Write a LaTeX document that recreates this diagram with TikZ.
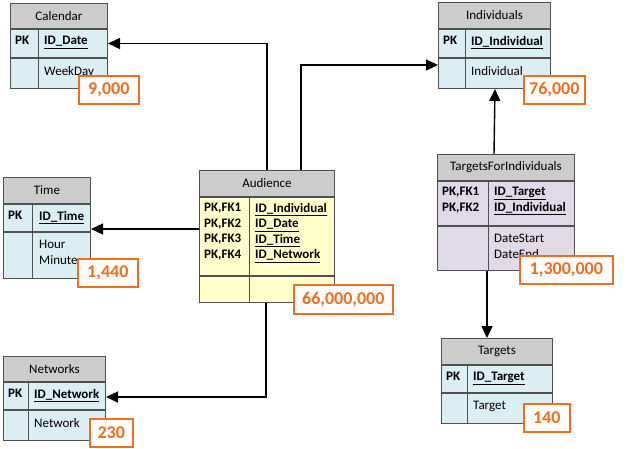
\documentclass[tikz,border=0pt]{standalone}
\usepackage{fontspec}
\setmainfont{Carlito}
\usetikzlibrary{positioning,arrows.meta,calc}

\definecolor{hdrgray}{RGB}{204,204,204}
\definecolor{rowblue}{RGB}{218,238,243}
\definecolor{rowyellow}{RGB}{255,255,204}
\definecolor{rowlilac}{RGB}{224,218,232}
\definecolor{cntorange}{RGB}{240,110,30}
\definecolor{edgegray}{RGB}{80,80,80}

\tikzset{
  box/.style={draw=edgegray, line width=1pt, anchor=north west, inner sep=0pt},
  hdr/.style={box, fill=hdrgray},
  txt/.style={anchor=north west, inner sep=0pt, align=left, font=\fontsize{13}{15.5}\selectfont},
  key/.style={txt, font=\fontsize{13}{15.5}\selectfont\bfseries},
  title/.style={inner sep=0pt, font=\fontsize{13}{15.5}\selectfont},
  count/.style={draw=cntorange, line width=1.6pt, fill=white, text=cntorange, inner sep=0pt,
    anchor=north west, font=\fontsize{18}{20}\selectfont\bfseries},
  link/.style={line width=1.4pt, -{Triangle[length=12pt,width=11pt]}}
}

% table: name, x, y, width, key column, header h, row1 h, row2 h, fill
\newcommand{\ent}[9]{%
  \node[hdr, minimum width=#4pt, minimum height=#6pt] (#1-h) at (#2,#3) {};
  \node[box, fill=#9, minimum width=#4pt, minimum height=#7pt] (#1-1) at (#1-h.south west) {};
  \node[box, fill=#9, minimum width=#4pt, minimum height=#8pt] (#1-2) at (#1-1.south west) {};
  \draw[draw=edgegray, line width=1pt] ($(#1-1.north west)+(#5,0)$) -- ($(#1-2.south west)+(#5,0)$);
}

\begin{document}
\begin{tikzpicture}[x=1pt,y=-1pt]
  \useasboundingbox (0,0) rectangle (640,449);

  % tables
  \ent{cal}{10}{3}{97}{28}{25}{28}{30}{rowblue}
  \ent{time}{3}{177}{87}{29}{26}{27}{46}{rowblue}
  \ent{net}{3}{356}{102}{25}{25}{27}{30}{rowblue}
  \ent{aud}{199}{170}{135}{50}{26}{78}{26}{rowyellow}
  \ent{ind}{438}{2}{112}{27}{26}{28}{30}{rowblue}
  \ent{tfi}{437}{154}{137}{51}{26}{44}{44}{rowlilac}
  \ent{tgt}{441}{338}{111}{26}{26}{27}{30}{rowblue}

  % titles
  \node[title] at (cal-h) {Calendar};
  \node[title] at (time-h) {Time};
  \node[title] at (net-h) {Networks};
  \node[title] at (aud-h) {Audience};
  \node[title] at (ind-h) {Individuals};
  \node[title] at (tfi-h) {TargetsForIndividuals};
  \node[title] at (tgt-h) {Targets};

  % keys and fields
  \node[key] (cal-k) at ($(cal-1.north west)+(5,7)$) {PK};
  \node[key] (cal-f) at ($(cal-1.north west)+(34,7)$) {\underline{ID\_Date}};
  \node[txt] (cal-g) at ($(cal-2.north west)+(34,8)$) {WeekDay};

  \node[key] (time-k) at ($(time-1.north west)+(5,7)$) {PK};
  \node[key] (time-f) at ($(time-1.north west)+(36,7)$) {\underline{ID\_Time}};
  \node[txt] (time-g) at ($(time-2.north west)+(36,8)$) {Hour\\Minute};

  \node[key] (net-k) at ($(net-1.north west)+(5,7)$) {PK};
  \node[key] (net-f) at ($(net-1.north west)+(31,7)$) {\underline{ID\_Network}};
  \node[txt] (net-g) at ($(net-2.north west)+(31,8)$) {Network};

  \node[key] (aud-k) at ($(aud-1.north west)+(5,6)$) {PK,FK1\\PK,FK2\\PK,FK3\\PK,FK4};
  \node[key] (aud-f) at ($(aud-1.north west)+(56,6)$) {\underline{ID\_Individual}\\\underline{ID\_Date}\\\underline{ID\_Time}\\\underline{ID\_Network}};

  \node[key] (ind-k) at ($(ind-1.north west)+(5,7)$) {PK};
  \node[key] (ind-f) at ($(ind-1.north west)+(33,7)$) {\underline{ID\_Individual}};
  \node[txt] (ind-g) at ($(ind-2.north west)+(33,8)$) {Individual};

  \node[key] (tfi-k) at ($(tfi-1.north west)+(5,6)$) {PK,FK1\\PK,FK2};
  \node[key] (tfi-f) at ($(tfi-1.north west)+(57,6)$) {\underline{ID\_Target}\\\underline{ID\_Individual}};
  \node[txt] (tfi-g) at ($(tfi-2.north west)+(57,8)$) {DateStart\\DateEnd};

  \node[key] (tgt-k) at ($(tgt-1.north west)+(5,7)$) {PK};
  \node[key] (tgt-f) at ($(tgt-1.north west)+(32,7)$) {\underline{ID\_Target}};
  \node[txt] (tgt-g) at ($(tgt-2.north west)+(32,8)$) {Target};

  % connectors
  \coordinate (aud-t1) at ($(aud-h.north west)+(68,0)$);
  \coordinate (aud-t2) at ($(aud-h.north west)+(102,0)$);
  \coordinate (aud-b) at ($(aud-2.south west)+(67,0)$);
  \coordinate (ind-in) at ($(ind-2.north west)+(0,7)$);
  \coordinate (time-in) at ($(time-1.south east)+(0,-3)$);
  \coordinate (net-in) at ($(net-1.south east)+(0,-13)$);
  \draw[link] (aud-t1) |- (cal-1.east);
  \draw[link] (aud-t2) |- (ind-in);
  \draw[link] (time-in -| aud-1.west) -- (time-in);
  \draw[link] (aud-b) |- (net-in);
  \draw[link] ($(tfi-h.north west)+(57,0)$) -- ($(ind-2.south west)+(57,0)$);
  \draw[link] ($(tfi-2.south west)+(50,0)$) -- ($(tgt-h.north west)+(46,0)$);

  % row counts
  \node[count, minimum width=60pt, minimum height=28pt] (cal-n) at (78,75) {9,000};
  \node[count, minimum width=60pt, minimum height=28pt] (time-n) at (77,258) {1,440};
  \node[count, minimum width=43pt, minimum height=28pt] (net-n) at (89,418) {230};
  \node[count, minimum width=99pt, minimum height=29pt] (aud-n) at (293,284) {66,000,000};
  \node[count, minimum width=61pt, minimum height=28pt] (ind-n) at (523,75) {76,000};
  \node[count, minimum width=93pt, minimum height=28pt] (tfi-n) at (519,255) {1,300,000};
  \node[count, minimum width=46pt, minimum height=28pt] (tgt-n) at (523,403) {140};
\end{tikzpicture}
\end{document}
